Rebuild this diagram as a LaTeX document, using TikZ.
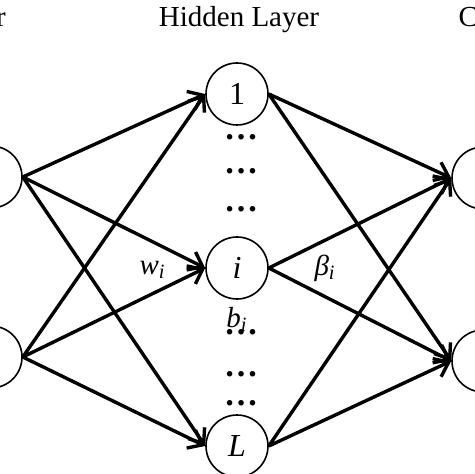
\documentclass[tikz,border=0pt]{standalone}
\usepackage{fontspec}
\setmainfont{Liberation Serif}
\usetikzlibrary{arrows.meta,positioning}

\begin{document}
\begin{tikzpicture}[auto,node distance=87pt,>={Straight Barb[length=6.5pt,width=10pt]},line width=1.7pt]
  \tikzstyle{neuron}=[circle,draw,line width=0.8pt,fill=white,minimum size=31pt,inner sep=0pt,font=\fontsize{16}{19}\selectfont]
  \tikzstyle{txt}=[font=\fontsize{14.5}{17}\selectfont,inner sep=0pt]
  \tikzstyle{dotrow}=[font=\fontsize{17}{19}\selectfont\bfseries,inner sep=0pt]
  \useasboundingbox (0,0) rectangle (237pt,-237pt);
  % layers
  \node[neuron](h1) at (118.5pt,-47pt){1};
  \node[neuron,below of=h1](hi){\textit{i}};
  \node[neuron,below of=hi,yshift=-2pt](hL){\textit{L}};
  \node[neuron](in1) at (-4.5pt,-88.5pt){};
  \node[neuron,below of=in1,yshift=-3pt](in2){};
  \node[neuron](out1) at (241.5pt,-89pt){};
  \node[neuron,below of=out1,yshift=-4.5pt](out2){};
  % titles
  \node[txt,anchor=base east](in-title) at (3.8pt,-13.5pt){r};
  \node[txt,anchor=base](hid-title) at (119.5pt,-13.5pt){Hidden Layer};
  \node[txt,anchor=base west](out-title) at (228.5pt,-13.5pt){C};
  % dots
  \node[dotrow](d1) at (120.5pt,-68.5pt){…};
  \node[dotrow](d2) at (120.5pt,-85.5pt){…};
  \node[dotrow](d3) at (120.5pt,-104.5pt){…};
  \node[dotrow](d4) at (120.5pt,-166pt){…};
  \node[dotrow](d5) at (120.5pt,-187pt){…};
  \node[dotrow](d6) at (120.5pt,-201.5pt){…};
  % labels
  \node[txt,left=19pt of hi,yshift=-1pt](w-lbl){\textit{w}\textsubscript{\textit{i}}};
  \node[txt,right=22pt of hi](beta-lbl){\textit{β}\textsubscript{\textit{i}}};
  \node[txt,below=3pt of hi](b-lbl){\textit{b}\textsubscript{\textit{i}}};
  % connections
  \draw[->](in1.east)--(h1.west);
  \draw[->](in1.east)--(hi.west);
  \draw[->](in1.east)--(hL.west);
  \draw[->](in2.east)--(h1.west);
  \draw[->](in2.east)--(hi.west);
  \draw[->](in2.east)--(hL.west);
  \draw[->](h1.east)--(out1.west);
  \draw[->](h1.east)--(out2.west);
  \draw[->](hi.east)--(out1.west);
  \draw[->](hi.east)--(out2.west);
  \draw[->](hL.east)--(out1.west);
  \draw[->](hL.east)--(out2.west);
\end{tikzpicture}
\end{document}
